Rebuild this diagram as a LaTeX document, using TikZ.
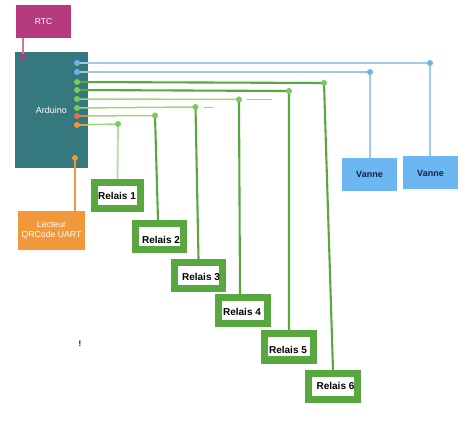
\documentclass[tikz,border=0pt]{standalone}
\usepackage{fontspec}
\setmainfont{Liberation Sans}
\definecolor{rtcc}{HTML}{B83A7E}
\definecolor{ardc}{HTML}{35797F}
\definecolor{lecc}{HTML}{F0983A}
\definecolor{vanc}{HTML}{6CB6F2}
\definecolor{bluew}{HTML}{9CCBEB}
\definecolor{bluegw}{HTML}{A4C6D8}
\definecolor{dotb}{HTML}{6DB5E8}
\definecolor{dotg}{HTML}{7CC95C}
\definecolor{grn}{HTML}{58A83F}
\definecolor{lgrn}{HTML}{9CD67E}
\definecolor{lgrn2}{HTML}{B5DCA8}
\definecolor{redo}{HTML}{E0734A}
\definecolor{tinv}{HTML}{14233F}
\tikzset{
  x=1pt,y=-1pt,
  blockn/.style={draw=none,inner sep=0,outer sep=0,text=white,align=center,font=\fontsize{8.7}{10}\selectfont},
  vanne/.style={blockn,fill=vanc,minimum width=55pt,minimum height=33pt,text=tinv,font=\fontsize{9}{10}\selectfont\bfseries},
  pin/.style={circle,inner sep=0,outer sep=0,minimum size=6pt,fill=#1},
  relais/.style={draw=grn,fill=white,line width=7pt,inner sep=0,minimum width=48.5pt,minimum height=26pt},
  reltext/.style={inner sep=0,text=black,font=\fontsize{10}{12}\selectfont\bfseries},
  thickw/.style={draw=grn,line width=2.1pt},
  lightw/.style={draw=lgrn,line width=1.5pt},
  bluewire/.style={draw=bluew,line width=1.2pt},
}
\begin{document}
\begin{tikzpicture}
\useasboundingbox (0,0) rectangle (474,430);
\fill[white] (0,0) rectangle (474,430);
% blocks
\node[blockn,fill=rtcc,minimum width=55pt,minimum height=33pt,font=\fontsize{8.5}{10}\selectfont] (rtc) at (43.5,21.5) {RTC};
\node[blockn,fill=ardc,minimum width=73pt,minimum height=116pt] (ard) at (51.5,110) {};
\node[blockn,font=\fontsize{9}{10}\selectfont] (ardt) at (51.5,110) {Arduino};
\node[blockn,fill=lecc,minimum width=67pt,minimum height=39pt] (lec) at (51.5,230.5) {Lecteur\\QRCode UART};
\node[vanne] (v1) at (369.5,174.5) {Vanne};
\node[vanne] (v2) at (430.5,173) {Vanne};
% relays
\node[relais,minimum width=46pt] (r1) at (117.5,195.5) {};
\node[relais] (r2) at (159.5,237) {};
\node[relais] (r3) at (198.5,275.5) {};
\node[relais] (r4) at (243,311) {};
\node[relais] (r5) at (289,347) {};
\node[relais] (r6) at (333,386.5) {};
\node[reltext] (t1) at (117,196) {Relais 1};
\node[reltext] (t2) at (161,240) {Relais 2};
\node[reltext] (t3) at (201,277) {Relais 3};
\node[reltext] (t4) at (242,312) {Relais 4};
\node[reltext] (t5) at (288,350) {Relais 5};
\node[reltext] (t6) at (335.5,385.5) {Relais 6};
% pin coordinates
\coordinate (a1) at (77,63);
\coordinate (a2) at (77,72);
\coordinate (a3) at (77,82);
\coordinate (a4) at (77,90);
\coordinate (a5) at (77,99);
\coordinate (a6) at (77,108);
\coordinate (a7) at (77,116);
\coordinate (a8) at (77,125);
\coordinate (ds1a) at (204,107.5);
\coordinate (ds1b) at (214,107.5);
\coordinate (ds2a) at (247,99.5);
\coordinate (ds2b) at (272,99.5);
\coordinate (bv2) at (430,63);
\coordinate (bv1) at (370,72);
\coordinate (g6) at (324,83);
\coordinate (g5) at (289,91);
\coordinate (g4) at (239,99.5);
\coordinate (g3) at (195.5,107);
\coordinate (g2) at (155,115.5);
\coordinate (g1) at (118,124);
% wires
\draw[bluewire] (a1) -- (bv2) -- (bv2 |- v2.north);
\draw[bluewire,draw=bluegw] (a2) -- (bv1);
\draw[bluewire] (bv1) -- (bv1 |- v1.north);
\draw[thickw] (a3) -- (g6) -- (r6.north);
\draw[thickw] (a4) -- (g5) -- (r5.north);
\draw[lightw] (a5) -- (g4);
\draw[thickw] (g4) -- ([xshift=-3pt]r4.north);
\draw[lightw] (a6) -- (g3);
\draw[thickw] (g3) -- (r3.north);
\draw[lightw] (a7) -- (g2);
\draw[thickw] (g2) -- ([xshift=-1.5pt]r2.north);
\draw[lightw] (a8) -- (g1);
\draw[draw=lgrn2,line width=1.8pt] (g1) -- (r1.north);
\draw[lightw] (ds1a) -- (ds1b);
\draw[lightw] (ds2a) -- (ds2b);
\draw[draw=redo!70!lgrn,line width=1.5pt] (a7) -- (a7 -| ard.east);
\draw[draw=lecc!80!lgrn,line width=1.5pt] (a8) -- (a8 -| ard.east);
% other pins
\node[pin=rtcc] (prtc) at (23,57) {};
\node[pin=lecc] (plec) at (75,158) {};
\draw[draw=rtcc!70!white,line width=2pt] (prtc) -- (prtc |- rtc.south);
\draw[draw=lecc,line width=1.4pt] (plec) -- (plec |- lec.north);
% pin dots
\foreach \p in {a1,a2,bv2,bv1}{\fill[dotb] (\p) circle (3pt);}
\foreach \p in {a3,a4,a5,a6,g6,g5,g4,g3,g2,g1}{\fill[dotg] (\p) circle (3pt);}
\fill[redo] (a7) circle (3pt);
\fill[lecc] (a8) circle (3pt);
\node[inner sep=0,text=black,font=\fontsize{8}{9}\selectfont\bfseries] (ex) at (80,344) {!};
\end{tikzpicture}
\end{document}
